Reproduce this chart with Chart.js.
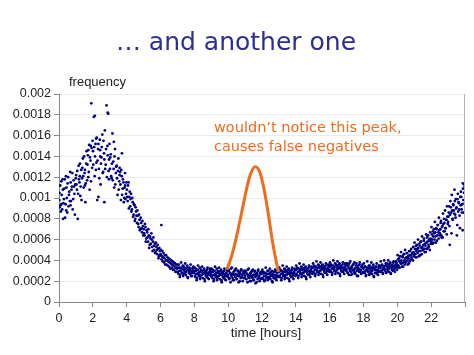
<!DOCTYPE html>
<html>
<head>
<meta charset="utf-8">
<script src="https://cdn.jsdelivr.net/npm/chart.js@4.4.0/dist/chart.umd.min.js"></script>
<style>
html,body{margin:0;padding:0;background:#fff;}
#wrap{width:474px;height:355px;position:relative;}
</style>
</head>
<body>
<div id="wrap"><canvas id="c" width="474" height="355"></canvas></div>
<script>
// ---- data (hours, frequency) ----
const titleText = "\u2026 and another one";
const yLabel = "frequency";
const xLabel = "time [hours]";
const noteLines = ["wouldn\u2019t notice this peak,", "causes false negatives"];
const xTicks = [0,2,4,6,8,10,12,14,16,18,20,22,24];
const yTicks = [0,0.0002,0.0004,0.0006,0.0008,0.001,0.0012,0.0014,0.0016,0.0018,0.002];

const hours00to04 = [
[0.02,.00098],[0.07,.00112],[0.11,.00087],[0.16,.00103],[0.21,.00118],[0.26,.00095],[0.31,.00109],[0.36,.00081],[0.41,.00121],[0.46,.00100],
[0.51,.00114],[0.56,.00092],[0.61,.00106],[0.66,.00125],[0.71,.00097],[0.76,.00111],[0.81,.00089],[0.86,.00117],[0.91,.00104],[0.96,.00113],
[0.04,.00091],[0.13,.00094],[0.24,.00080],[0.43,.00088],[0.68,.00093],
[1.01,.00122],[1.06,.00108],[1.11,.00080],[1.16,.00131],[1.21,.00115],[1.26,.00102],[1.31,.00127],[1.36,.00119],[1.41,.00138],[1.46,.00110],
[1.51,.00124],[1.56,.00096],[1.61,.00133],[1.66,.00117],[1.71,.00141],[1.76,.00125],[1.81,.00108],[1.86,.00136],[1.91,.00191],[1.96,.00129],
[1.23,.00121],[1.53,.00112],[1.73,.00146],[1.88,.00150],
[2.01,.00145],[2.06,.00178],[2.11,.00121],[2.16,.00152],[2.21,.00134],[2.26,.00098],[2.31,.00147],[2.36,.00128],[2.41,.00156],[2.46,.00113],
[2.51,.00139],[2.56,.00161],[2.61,.00125],[2.66,.00143],[2.71,.00165],[2.76,.00132],[2.81,.00189],[2.86,.00150],[2.91,.00181],[2.96,.00137],
[2.12,.00179],[2.88,.00182],[2.95,.00118],[2.33,.00101],[2.68,.00096],[2.44,.00140],[2.19,.00157],
[3.01,.00128],[3.06,.00142],[3.11,.00119],[3.16,.00162],[3.21,.00135],[3.26,.00110],[3.31,.00147],[3.36,.00124],[3.41,.00131],[3.46,.00103],
[3.51,.00138],[3.56,.00116],[3.61,.00125],[3.66,.00098],[3.71,.00121],[3.76,.00109],[3.81,.00115],[3.86,.00100],[3.91,.00112],[3.96,.00104],
[3.72,.00143],[3.90,.00124],[3.24,.00154],[3.58,.00129]
];

const moreHours00to04 = [
[0.03,.00105],[0.09,.00093],[0.14,.00116],[0.19,.00089],[0.23,.00108],[0.29,.00099],[0.34,.00118],[0.39,.00094],[0.44,.00110],[0.49,.00086],
[0.54,.00120],[0.59,.00103],[0.64,.00097],[0.69,.00115],[0.74,.00108],[0.79,.00124],[0.84,.00099],[0.89,.00111],[0.94,.00084],[0.99,.00119],
[1.03,.00113],[1.08,.00126],[1.13,.00104],[1.18,.00118],[1.24,.00133],[1.28,.00111],[1.33,.00098],[1.38,.00129],[1.43,.00121],[1.48,.00140],
[1.53,.00127],[1.58,.00114],[1.63,.00145],[1.68,.00132],[1.73,.00120],[1.78,.00151],[1.83,.00139],[1.89,.00116],[1.93,.00148],[1.98,.00155],
[2.03,.00132],[2.08,.00149],[2.13,.00140],[2.18,.00127],[2.23,.00158],[2.28,.00136],[2.33,.00152],[2.38,.00119],[2.43,.00146],[2.48,.00133],
[2.53,.00149],[2.58,.00124],[2.63,.00155],[2.68,.00137],[2.73,.00128],[2.78,.00147],[2.83,.00120],[2.88,.00141],[2.93,.00126],[2.98,.00152],
[3.03,.00139],[3.08,.00121],[3.13,.00133],[3.18,.00117],[3.23,.00128],[3.28,.00140],[3.33,.00113],[3.38,.00130],[3.43,.00119],[3.48,.00126],
[3.53,.00108],[3.58,.00122],[3.63,.00113],[3.68,.00127],[3.73,.00103],[3.78,.00118],[3.83,.00096],[3.88,.00110],[3.93,.00099],[3.98,.00115]
];

const hours04to07 = [
[4.01,.00108],[4.06,.00097],[4.11,.00115],[4.16,.00101],[4.21,.00092],[4.26,.00104],[4.31,.00089],[4.36,.00096],[4.41,.00084],[4.46,.00093],
[4.51,.00080],[4.56,.00087],[4.61,.00076],[4.66,.00083],[4.71,.00072],[4.76,.00079],[4.81,.00070],[4.86,.00076],[4.91,.00067],[4.96,.00073],
[5.01,.00070],[5.06,.00064],[5.11,.00072],[5.16,.00061],[5.21,.00067],[5.26,.00058],[5.31,.00064],[5.36,.00055],[5.41,.00061],[5.46,.00066],
[5.51,.00053],[5.56,.00058],[5.61,.00050],[5.66,.00056],[5.71,.00048],[5.76,.00053],[5.81,.00046],[5.86,.00051],[5.91,.00044],[5.96,.00049],
[6.05,.00074],
[6.01,.00046],[6.06,.00041],[6.11,.00049],[6.16,.00043],[6.21,.00038],[6.26,.00045],[6.31,.00040],[6.36,.00036],[6.41,.00043],[6.46,.00039],
[6.51,.00034],[6.56,.00041],[6.61,.00037],[6.66,.00033],[6.71,.00039],[6.76,.00035],[6.81,.00031],[6.86,.00037],[6.91,.00033],[6.96,.00029]
];

const moreHours04to07 = [
[4.03,.00101],[4.08,.00112],[4.13,.00090],[4.18,.00106],[4.23,.00099],[4.28,.00087],[4.33,.00100],[4.38,.00082],[4.43,.00094],[4.48,.00078],
[4.53,.00091],[4.58,.00083],[4.63,.00088],[4.68,.00075],[4.73,.00084],[4.78,.00069],[4.83,.00081],[4.88,.00071],[4.93,.00078],[4.98,.00064],
[5.03,.00066],[5.08,.00075],[5.13,.00058],[5.18,.00069],[5.23,.00062],[5.28,.00070],[5.33,.00052],[5.38,.00063],[5.43,.00056],[5.48,.00060],
[5.53,.00049],[5.58,.00062],[5.63,.00054],[5.68,.00047],[5.73,.00057],[5.78,.00050],[5.83,.00055],[5.88,.00042],[5.93,.00052],[5.98,.00045],
[6.03,.00050],[6.08,.00044],[6.13,.00039],[6.18,.00047],[6.23,.00042],[6.28,.00036],[6.33,.00045],[6.38,.00040],[6.43,.00035],[6.48,.00042],
[6.53,.00038],[6.58,.00032],[6.63,.00040],[6.68,.00036],[6.73,.00031],[6.78,.00038],[6.83,.00034],[6.88,.00029],[6.93,.00036],[6.98,.00032]
];

const hours07to13 = [
[7.00,.00033],[7.04,.00029],[7.08,.00036],[7.12,.00030],[7.16,.00026],[7.20,.00033],[7.24,.00031],[7.28,.00028],[7.32,.00035],[7.36,.00027],
[7.40,.00031],[7.44,.00028],[7.48,.00032],[7.52,.00029],[7.56,.00033],[7.60,.00024],[7.64,.00031],[7.68,.00028],[7.72,.00030],[7.76,.00032],
[7.80,.00025],[7.84,.00030],[7.88,.00028],[7.92,.00033],[7.96,.00029],
[8.00,.00030],[8.04,.00025],[8.08,.00032],[8.12,.00027],[8.16,.00023],[8.20,.00031],[8.24,.00028],[8.28,.00026],[8.32,.00033],[8.36,.00024],
[8.40,.00029],[8.44,.00026],[8.48,.00030],[8.52,.00027],[8.56,.00031],[8.60,.00022],[8.64,.00029],[8.68,.00025],[8.72,.00028],[8.76,.00031],
[8.80,.00023],[8.84,.00028],[8.88,.00026],[8.92,.00032],[8.96,.00027],
[9.00,.00029],[9.04,.00024],[9.08,.00031],[9.12,.00026],[9.16,.00022],[9.20,.00030],[9.24,.00027],[9.28,.00025],[9.32,.00032],[9.36,.00023],
[9.40,.00028],[9.44,.00025],[9.48,.00029],[9.52,.00026],[9.56,.00030],[9.60,.00021],[9.64,.00028],[9.68,.00024],[9.72,.00027],[9.76,.00030],
[9.80,.00022],[9.84,.00027],[9.88,.00025],[9.92,.00031],[9.96,.00026],
[10.00,.00026],[10.04,.00030],[10.08,.00023],[10.12,.00028],[10.16,.00032],[10.20,.00025],[10.24,.00027],[10.28,.00021],[10.32,.00029],[10.36,.00026],
[10.40,.00031],[10.44,.00024],[10.48,.00027],[10.52,.00022],[10.56,.00030],[10.60,.00025],[10.64,.00028],[10.68,.00020],[10.72,.00027],[10.76,.00031],
[10.80,.00024],[10.84,.00026],[10.88,.00029],[10.92,.00023],[10.96,.00028],
[11.00,.00025],[11.04,.00029],[11.08,.00022],[11.12,.00027],[11.16,.00031],[11.20,.00024],[11.24,.00026],[11.28,.00020],[11.32,.00028],[11.36,.00025],
[11.40,.00030],[11.44,.00023],[11.48,.00026],[11.52,.00021],[11.56,.00029],[11.60,.00024],[11.64,.00027],[11.68,.00019],[11.72,.00026],[11.76,.00030],
[11.80,.00023],[11.84,.00025],[11.88,.00028],[11.92,.00022],[11.96,.00027],
[12.00,.00027],[12.04,.00023],[12.08,.00029],[12.12,.00025],[12.16,.00021],[12.20,.00028],[12.24,.00026],[12.28,.00024],[12.32,.00030],[12.36,.00022],
[12.40,.00027],[12.44,.00024],[12.48,.00028],[12.52,.00025],[12.56,.00029],[12.60,.00020],[12.64,.00027],[12.68,.00023],[12.72,.00026],[12.76,.00029],
[12.80,.00022],[12.84,.00026],[12.88,.00024],[12.92,.00030],[12.96,.00025]
];

const moreHours07to13 = [
[7.02,.00036],[7.06,.00027],[7.10,.00033],[7.14,.00024],[7.18,.00030],[7.22,.00038],[7.26,.00028],[7.30,.00032],[7.34,.00025],[7.38,.00034],
[7.42,.00029],[7.46,.00037],[7.50,.00026],[7.54,.00031],[7.58,.00035],[7.62,.00023],[7.66,.00030],[7.70,.00033],[7.74,.00027],[7.78,.00036],
[7.82,.00029],[7.86,.00025],[7.90,.00032],[7.94,.00034],[7.98,.00028],
[8.02,.00033],[8.06,.00024],[8.10,.00030],[8.14,.00021],[8.18,.00027],[8.22,.00035],[8.26,.00025],[8.30,.00029],[8.34,.00022],[8.38,.00031],
[8.42,.00026],[8.46,.00034],[8.50,.00023],[8.54,.00028],[8.58,.00032],[8.62,.00020],[8.66,.00027],[8.70,.00030],[8.74,.00024],[8.78,.00033],
[8.82,.00026],[8.86,.00022],[8.90,.00029],[8.94,.00031],[8.98,.00025],
[9.02,.00032],[9.06,.00023],[9.10,.00029],[9.14,.00020],[9.18,.00026],[9.22,.00034],[9.26,.00024],[9.30,.00028],[9.34,.00021],[9.38,.00030],
[9.42,.00025],[9.46,.00033],[9.50,.00022],[9.54,.00027],[9.58,.00031],[9.62,.00019],[9.66,.00026],[9.70,.00029],[9.74,.00023],[9.78,.00032],
[9.82,.00025],[9.86,.00021],[9.90,.00028],[9.94,.00030],[9.98,.00024],
[10.02,.00031],[10.06,.00022],[10.10,.00028],[10.14,.00019],[10.18,.00026],[10.22,.00033],[10.26,.00023],[10.30,.00027],[10.34,.00021],[10.38,.00030],
[10.42,.00024],[10.46,.00032],[10.50,.00022],[10.54,.00026],[10.58,.00030],[10.62,.00019],[10.66,.00025],[10.70,.00029],[10.74,.00023],[10.78,.00031],
[10.82,.00024],[10.86,.00020],[10.90,.00027],[10.94,.00030],[10.98,.00023],
[11.02,.00030],[11.06,.00022],[11.10,.00027],[11.14,.00019],[11.18,.00025],[11.22,.00032],[11.26,.00023],[11.30,.00027],[11.34,.00020],[11.38,.00029],
[11.42,.00024],[11.46,.00031],[11.50,.00021],[11.54,.00026],[11.58,.00030],[11.62,.00018],[11.66,.00025],[11.70,.00028],[11.74,.00022],[11.78,.00031],
[11.82,.00024],[11.86,.00020],[11.90,.00027],[11.94,.00029],[11.98,.00023],
[12.02,.00031],[12.06,.00022],[12.10,.00028],[12.14,.00020],[12.18,.00025],[12.22,.00033],[12.26,.00023],[12.30,.00027],[12.34,.00021],[12.38,.00030],
[12.42,.00024],[12.46,.00032],[12.50,.00022],[12.54,.00026],[12.58,.00030],[12.62,.00019],[12.66,.00025],[12.70,.00029],[12.74,.00023],[12.78,.00031],
[12.82,.00024],[12.86,.00021],[12.90,.00028],[12.94,.00030],[12.98,.00024]
];

const hours13to19 = [
[13.00,.00029],[13.04,.00025],[13.08,.00031],[13.12,.00027],[13.16,.00023],[13.20,.00030],[13.24,.00028],[13.28,.00026],[13.32,.00032],[13.36,.00024],
[13.40,.00029],[13.44,.00026],[13.48,.00030],[13.52,.00027],[13.56,.00031],[13.60,.00022],[13.64,.00029],[13.68,.00025],[13.72,.00028],[13.76,.00031],
[13.80,.00024],[13.84,.00028],[13.88,.00026],[13.92,.00032],[13.96,.00027],
[14.00,.00031],[14.04,.00027],[14.08,.00033],[14.12,.00029],[14.16,.00025],[14.20,.00032],[14.24,.00030],[14.28,.00028],[14.32,.00034],[14.36,.00026],
[14.40,.00031],[14.44,.00028],[14.48,.00032],[14.52,.00029],[14.56,.00033],[14.60,.00024],[14.64,.00031],[14.68,.00027],[14.72,.00030],[14.76,.00033],
[14.80,.00026],[14.84,.00030],[14.88,.00028],[14.92,.00034],[14.96,.00029],
[15.00,.00033],[15.04,.00029],[15.08,.00035],[15.12,.00031],[15.16,.00027],[15.20,.00034],[15.24,.00032],[15.28,.00030],[15.32,.00036],[15.36,.00028],
[15.40,.00033],[15.44,.00030],[15.48,.00034],[15.52,.00031],[15.56,.00035],[15.60,.00026],[15.64,.00033],[15.68,.00029],[15.72,.00032],[15.76,.00035],
[15.80,.00028],[15.84,.00032],[15.88,.00030],[15.92,.00036],[15.96,.00031],
[16.00,.00034],[16.04,.00030],[16.08,.00036],[16.12,.00032],[16.16,.00028],[16.20,.00035],[16.24,.00033],[16.28,.00031],[16.32,.00037],[16.36,.00029],
[16.40,.00034],[16.44,.00031],[16.48,.00035],[16.52,.00032],[16.56,.00036],[16.60,.00027],[16.64,.00034],[16.68,.00030],[16.72,.00033],[16.76,.00036],
[16.80,.00029],[16.84,.00033],[16.88,.00031],[16.92,.00037],[16.96,.00032],
[17.00,.00031],[17.04,.00035],[17.08,.00028],[17.12,.00033],[17.16,.00037],[17.20,.00030],[17.24,.00032],[17.28,.00026],[17.32,.00034],[17.36,.00031],
[17.40,.00036],[17.44,.00029],[17.48,.00032],[17.52,.00027],[17.56,.00035],[17.60,.00030],[17.64,.00033],[17.68,.00025],[17.72,.00032],[17.76,.00036],
[17.80,.00029],[17.84,.00031],[17.88,.00034],[17.92,.00028],[17.96,.00033],
[18.00,.00032],[18.04,.00028],[18.08,.00034],[18.12,.00030],[18.16,.00026],[18.20,.00033],[18.24,.00031],[18.28,.00029],[18.32,.00035],[18.36,.00027],
[18.40,.00032],[18.44,.00029],[18.48,.00033],[18.52,.00030],[18.56,.00034],[18.60,.00025],[18.64,.00032],[18.68,.00028],[18.72,.00031],[18.76,.00034],
[18.80,.00027],[18.84,.00031],[18.88,.00029],[18.92,.00035],[18.96,.00030]
];

const moreHours13to19 = [
[13.02,.00033],[13.06,.00024],[13.10,.00030],[13.14,.00021],[13.18,.00027],[13.22,.00035],[13.26,.00025],[13.30,.00029],[13.34,.00022],[13.38,.00031],
[13.42,.00026],[13.46,.00034],[13.50,.00023],[13.54,.00028],[13.58,.00032],[13.62,.00020],[13.66,.00027],[13.70,.00030],[13.74,.00024],[13.78,.00033],
[13.82,.00026],[13.86,.00022],[13.90,.00029],[13.94,.00031],[13.98,.00025],
[14.02,.00035],[14.06,.00026],[14.10,.00032],[14.14,.00023],[14.18,.00029],[14.22,.00037],[14.26,.00027],[14.30,.00031],[14.34,.00024],[14.38,.00033],
[14.42,.00028],[14.46,.00036],[14.50,.00025],[14.54,.00030],[14.58,.00034],[14.62,.00022],[14.66,.00029],[14.70,.00032],[14.74,.00026],[14.78,.00035],
[14.82,.00028],[14.86,.00024],[14.90,.00031],[14.94,.00033],[14.98,.00027],
[15.02,.00037],[15.06,.00028],[15.10,.00034],[15.14,.00025],[15.18,.00031],[15.22,.00039],[15.26,.00029],[15.30,.00033],[15.34,.00026],[15.38,.00035],
[15.42,.00030],[15.46,.00038],[15.50,.00027],[15.54,.00032],[15.58,.00036],[15.62,.00024],[15.66,.00031],[15.70,.00034],[15.74,.00028],[15.78,.00037],
[15.82,.00030],[15.86,.00026],[15.90,.00033],[15.94,.00035],[15.98,.00029],
[16.02,.00038],[16.06,.00029],[16.10,.00035],[16.14,.00026],[16.18,.00032],[16.22,.00040],[16.26,.00030],[16.30,.00034],[16.34,.00027],[16.38,.00036],
[16.42,.00031],[16.46,.00039],[16.50,.00028],[16.54,.00033],[16.58,.00037],[16.62,.00025],[16.66,.00032],[16.70,.00035],[16.74,.00029],[16.78,.00038],
[16.82,.00031],[16.86,.00027],[16.90,.00034],[16.94,.00036],[16.98,.00030],
[17.02,.00037],[17.06,.00028],[17.10,.00035],[17.14,.00026],[17.18,.00032],[17.22,.00039],[17.26,.00029],[17.30,.00034],[17.34,.00027],[17.38,.00036],
[17.42,.00030],[17.46,.00038],[17.50,.00028],[17.54,.00033],[17.58,.00037],[17.62,.00025],[17.66,.00031],[17.70,.00035],[17.74,.00029],[17.78,.00038],
[17.82,.00030],[17.86,.00027],[17.90,.00034],[17.94,.00036],[17.98,.00029],
[18.02,.00037],[18.06,.00028],[18.10,.00034],[18.14,.00025],[18.18,.00031],[18.22,.00039],[18.26,.00029],[18.30,.00033],[18.34,.00026],[18.38,.00035],
[18.42,.00030],[18.46,.00038],[18.50,.00027],[18.54,.00032],[18.58,.00036],[18.62,.00024],[18.66,.00031],[18.70,.00034],[18.74,.00028],[18.78,.00037],
[18.82,.00030],[18.86,.00026],[18.90,.00033],[18.94,.00035],[18.98,.00029]
];

const hours19to24 = [
[19.00,.00033],[19.04,.00029],[19.08,.00035],[19.12,.00031],[19.16,.00028],[19.20,.00034],[19.24,.00032],[19.28,.00030],[19.32,.00037],[19.36,.00029],
[19.40,.00034],[19.44,.00031],[19.48,.00036],[19.52,.00032],[19.56,.00037],[19.60,.00028],[19.64,.00035],[19.68,.00031],[19.72,.00034],[19.76,.00038],
[19.80,.00031],[19.84,.00035],[19.88,.00033],[19.92,.00039],[19.96,.00034],
[20.00,.00036],[20.04,.00041],[20.08,.00033],[20.12,.00039],[20.16,.00044],[20.20,.00037],[20.24,.00040],[20.28,.00034],[20.32,.00043],[20.36,.00038],
[20.40,.00046],[20.44,.00036],[20.48,.00042],[20.52,.00039],[20.56,.00047],[20.60,.00040],[20.64,.00044],[20.68,.00037],[20.72,.00045],[20.76,.00049],
[20.80,.00041],[20.84,.00043],[20.88,.00047],[20.92,.00040],[20.96,.00048],
[21.00,.00046],[21.04,.00051],[21.08,.00043],[21.12,.00049],[21.16,.00055],[21.20,.00047],[21.24,.00052],[21.28,.00044],[21.32,.00054],[21.36,.00049],
[21.40,.00058],[21.44,.00046],[21.48,.00053],[21.52,.00050],[21.56,.00059],[21.60,.00051],[21.64,.00056],[21.68,.00048],[21.72,.00057],[21.76,.00062],
[21.80,.00052],[21.84,.00055],[21.88,.00060],[21.92,.00050],[21.96,.00061],
[22.00,.00058],[22.04,.00065],[22.08,.00056],[22.12,.00063],[22.16,.00070],[22.20,.00060],[22.24,.00067],[22.28,.00057],[22.32,.00070],[22.36,.00064],
[22.40,.00074],[22.44,.00061],[22.48,.00069],[22.52,.00066],[22.56,.00076],[22.60,.00064],[22.64,.00072],[22.68,.00062],[22.72,.00075],[22.76,.00080],
[22.80,.00068],[22.84,.00071],[22.88,.00079],[22.92,.00065],[22.96,.00082],
[23.00,.00077],[23.04,.00086],[23.08,.00073],[23.12,.00084],[23.16,.00091],[23.20,.00066],[23.24,.00088],[23.28,.00079],[23.32,.00093],[23.36,.00085],
[23.40,.00097],[23.44,.00081],[23.48,.00090],[23.52,.00064],[23.56,.00099],[23.60,.00087],[23.64,.00095],[23.68,.00083],[23.72,.00101],[23.76,.00106],
[23.80,.00089],[23.84,.00094],[23.88,.00109],[23.92,.00086],[23.96,.00113],[23.86,.00069],[23.98,.00111]
];

const moreHours19to24 = [
[19.02,.00039],[19.06,.00030],[19.10,.00036],[19.14,.00027],[19.18,.00033],[19.22,.00040],[19.26,.00031],[19.30,.00035],[19.34,.00028],[19.38,.00037],
[19.42,.00032],[19.46,.00040],[19.50,.00029],[19.54,.00034],[19.58,.00038],[19.62,.00027],[19.66,.00033],[19.70,.00036],[19.74,.00030],[19.78,.00039],
[19.82,.00032],[19.86,.00029],[19.90,.00036],[19.94,.00038],[19.98,.00031],
[20.02,.00045],[20.06,.00035],[20.10,.00042],[20.14,.00033],[20.18,.00039],[20.22,.00048],[20.26,.00037],[20.30,.00044],[20.34,.00034],[20.38,.00046],
[20.42,.00040],[20.46,.00050],[20.50,.00038],[20.54,.00043],[20.58,.00047],[20.62,.00036],[20.66,.00042],[20.70,.00049],[20.74,.00039],[20.78,.00045],
[20.82,.00051],[20.86,.00041],[20.90,.00046],[20.94,.00053],[20.98,.00044],
[21.02,.00057],[21.06,.00046],[21.10,.00054],[21.14,.00043],[21.18,.00051],[21.22,.00060],[21.26,.00049],[21.30,.00056],[21.34,.00045],[21.38,.00058],
[21.42,.00052],[21.46,.00063],[21.50,.00050],[21.54,.00055],[21.58,.00061],[21.62,.00048],[21.66,.00054],[21.70,.00065],[21.74,.00051],[21.78,.00058],
[21.82,.00064],[21.86,.00053],[21.90,.00059],[21.94,.00067],[21.98,.00056],
[22.02,.00072],[22.06,.00060],[22.10,.00068],[22.14,.00057],[22.18,.00066],[22.22,.00077],[22.26,.00063],[22.30,.00071],[22.34,.00059],[22.38,.00074],
[22.42,.00067],[22.46,.00081],[22.50,.00064],[22.54,.00070],[22.58,.00078],[22.62,.00062],[22.66,.00073],[22.70,.00085],[22.74,.00068],[22.78,.00076],
[22.82,.00088],[22.86,.00071],[22.90,.00079],[22.94,.00092],[22.98,.00075],
[23.02,.00082],[23.06,.00092],[23.10,.00055],[23.14,.00097],[23.18,.00086],[23.22,.00103],[23.26,.00080],[23.30,.00094],[23.34,.00088],[23.38,.00108],
[23.42,.00084],[23.46,.00099],[23.50,.00091],[23.54,.00074],[23.58,.00104],[23.62,.00096],[23.66,.00089],[23.70,.00071],[23.74,.00093],[23.78,.00101],
[23.82,.00086],[23.87,.00114],[23.90,.00098],[23.94,.00105],[23.99,.00095]
];

const missedPeak = [
[9.92,.00031],[10.22,.00045],[10.51,.00064],[10.81,.00087],[11.05,.00106],[11.30,.00122],[11.60,.00130],
[11.89,.00124],[12.15,.00106],[12.38,.00084],[12.62,.00058],[12.84,.00039],[12.98,.00029]
];

// ---- chart ----
const toXY = arr => arr.map(p => ({x: p[0], y: p[1]}));
const samples = [].concat(hours00to04, moreHours00to04, hours04to07, moreHours04to07,
  hours07to13, moreHours07to13, hours13to19, moreHours13to19, hours19to24, moreHours19to24);

const textPlugin = {
  id: 'texts',
  afterDraw(chart) {
    const ctx = chart.ctx;
    const a = chart.chartArea;
    ctx.save();
    ctx.strokeStyle = '#b4b4b4';
    ctx.lineWidth = 1;
    ctx.beginPath();
    ctx.moveTo(Math.round(a.right) - 0.5, a.top);
    ctx.lineTo(Math.round(a.right) - 0.5, a.bottom);
    ctx.stroke();
    ctx.fillStyle = '#2d2f8f';
    ctx.font = '25px "DejaVu Sans", Verdana, sans-serif';
    ctx.textAlign = 'center';
    ctx.textBaseline = 'alphabetic';
    ctx.fillText(titleText, 236, 50);
    ctx.fillStyle = '#222';
    ctx.font = '13px "Liberation Sans", Arial, sans-serif';
    ctx.fillText(yLabel, 97.5, 86);
    ctx.font = '13.5px "Liberation Sans", Arial, sans-serif';
    ctx.fillText(xLabel, 266, 337);
    ctx.fillStyle = '#f06b1c';
    ctx.font = '14.5px "DejaVu Sans", Verdana, sans-serif';
    ctx.textAlign = 'left';
    ctx.fillText(noteLines[0], 214, 132);
    ctx.fillText(noteLines[1], 214, 151);
    ctx.restore();
  }
};

new Chart(document.getElementById('c'), {
  type: 'scatter',
  data: {
    datasets: [
      {
        type: 'line',
        data: toXY(missedPeak),
        borderColor: '#f06b1c',
        borderWidth: 3,
        pointRadius: 0,
        cubicInterpolationMode: 'monotone',
        fill: false
      },
      {
        data: toXY(samples),
        backgroundColor: '#000080',
        borderWidth: 0,
        pointRadius: 1.4,
        pointHoverRadius: 1.4
      }
    ]
  },
  options: {
    responsive: false,
    animation: false,
    events: [],
    layout: { padding: { left: 0, top: 94, right: 9, bottom: 0 } },
    plugins: { legend: { display: false }, tooltip: { enabled: false }, title: { display: false } },
    scales: {
      x: {
        type: 'linear', min: 0, max: 24,
        afterFit(s) { s.height = 53; },
        afterBuildTicks(s) { s.ticks = xTicks.map(v => ({value: v})); },
        ticks: {
          color: '#222', padding: 4, maxRotation: 0, autoSkip: false,
          font: { family: '"Liberation Sans", Arial, sans-serif', size: 12.5 },
          callback: v => (v === 24 ? '' : String(v))
        },
        grid: { color: 'rgba(0,0,0,0)', tickColor: '#888', tickLength: 5, drawTicks: true },
        border: { color: '#888', width: 1 }
      },
      y: {
        type: 'linear', min: 0, max: 0.002,
        afterFit(s) { s.width = 59; },
        afterBuildTicks(s) { s.ticks = yTicks.map(v => ({value: v})); },
        ticks: {
          color: '#222', padding: 3, autoSkip: false,
          font: { family: '"Liberation Sans", Arial, sans-serif', size: 12.5 },
          callback: v => String(parseFloat(v.toFixed(4)))
        },
        grid: { color: ctx => (ctx.tick && ctx.tick.value === 0 ? 'rgba(0,0,0,0)' : '#ebebeb'), tickColor: '#888', tickLength: 5 },
        border: { color: '#888', width: 1 }
      }
    }
  },
  plugins: [textPlugin]
});
</script>
</body>
</html>
